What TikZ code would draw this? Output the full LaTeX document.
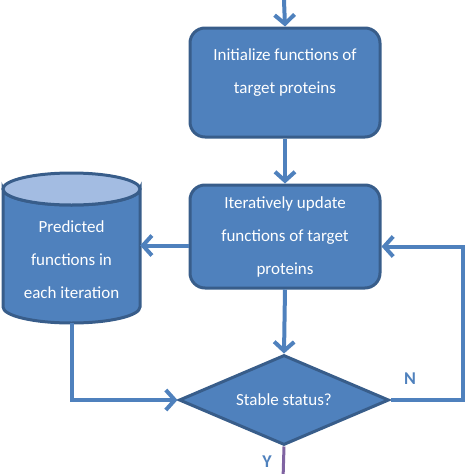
\documentclass[tikz,border=0pt]{standalone}
\usepackage{fontspec}
\setmainfont{Carlito}
\usepackage{xcolor}
\definecolor{boxblue}{HTML}{4F81BD}
\definecolor{edgeblue}{HTML}{385D8A}
\definecolor{capblue}{HTML}{A3BCE2}
\definecolor{yespurple}{HTML}{8064A2}
\usetikzlibrary{arrows.meta,shapes.geometric,positioning}

\tikzset{
  stepbox/.style={draw=edgeblue, line width=3pt, fill=boxblue, rounded corners=15pt,
    minimum width=190pt, inner sep=0pt, text=white, align=center,
    font=\fontsize{17pt}{33pt}\selectfont},
  boxtext/.style={text=white, align=center, font=\fontsize{17pt}{33pt}\selectfont},
  storearea/.style={minimum width=137pt, minimum height=150pt, inner sep=0pt},
  storebody/.style={draw=edgeblue, line width=3pt, fill=boxblue},
  storecap/.style={draw=edgeblue, line width=3pt, fill=capblue},
  decide/.style={diamond, draw=edgeblue, line width=3pt, fill=boxblue, aspect=2.33,
    minimum width=210pt, minimum height=90pt, inner sep=0pt, text=white,
    font=\fontsize{17pt}{20pt}\selectfont},
  conn/.style={draw=boxblue, line width=4pt, -{Straight Barb[length=9pt,width=20pt]}},
  yn/.style={text=boxblue, font=\fontsize{18pt}{20pt}\selectfont\bfseries}
}

\begin{document}
\begin{tikzpicture}[x=1pt, y=-1pt]
    \useasboundingbox (0,0) rectangle (474,474);

    % the steps
    \node[stepbox, minimum height=109pt] (init) at (285,82.5) {};
    \node[boxtext] (initTxt) at ([yshift=10pt]init.center) {Initialize functions of\\target proteins};
    \node[stepbox, minimum height=103pt] (update) at (285,236.5)
        {Iteratively update\\functions of target\\proteins};
    \node[decide] (stable) at (284,400) {Stable status?};

    % store of predictions (cylinder)
    \node[storearea] (pred) at (71.5,248) {};
    \filldraw[storebody] (3,189) -- (3,307)
        arc[start angle=180, end angle=360, x radius=68.5pt, y radius=16pt] -- (140,189)
        arc[start angle=0, end angle=-180, x radius=68.5pt, y radius=16pt] -- cycle;
    \filldraw[storecap] (71.5,189) ellipse[x radius=68.5pt, y radius=16pt];
    \node[boxtext] (predTxt) at (71.5,260) {Predicted\\functions in\\each iteration};

    % flow
    \coordinate (start) at (284,0);
    \draw[conn] (start) -- (init.north);
    \draw[conn] (init.south) -- (update.north);
    \draw[conn] (update.south) -- (stable.north);

    % save each iteration
    \coordinate (outL) at ([yshift=-9pt]update.west);
    \draw[conn] (outL) -- (outL -| pred.east);
    \draw[conn] (pred.south) |- (stable.west);

    % not stable: loop back
    \coordinate (inR) at ([yshift=-10pt]update.east);
    \draw[conn] (stable.east) -- (463,400) |- (inR);
    \node[yn] (no) at (410,379) {N};

    % stable: leave
    \coordinate (exit) at (283,480);
    \draw[yespurple, line width=3pt] (stable.south) -- (exit);
    \node[yn, anchor=north] (yes) at (267,452) {Y};
\end{tikzpicture}
\end{document}
